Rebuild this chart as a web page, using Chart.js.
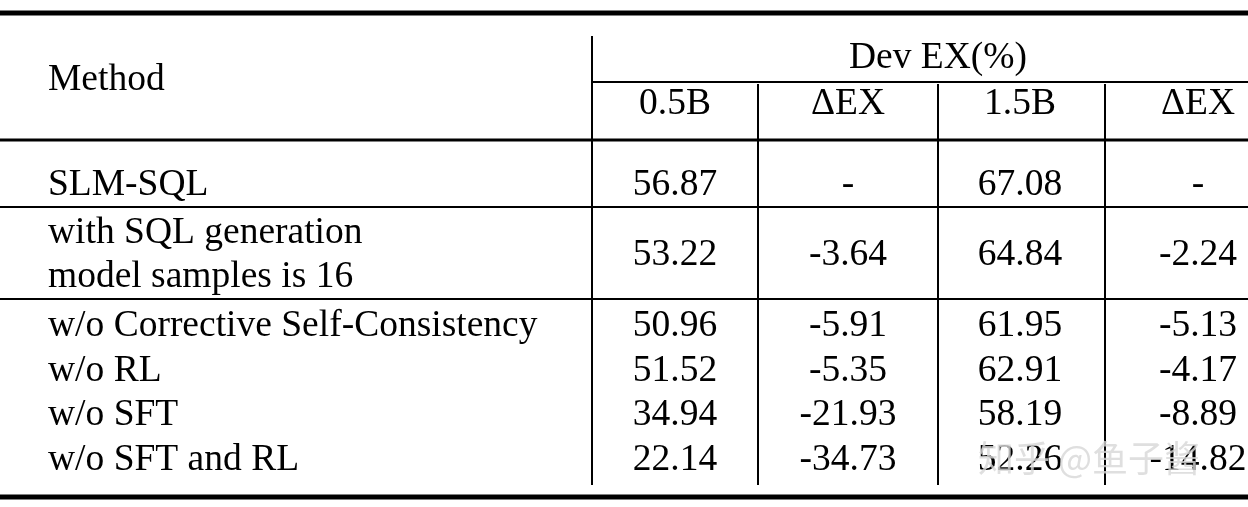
<!DOCTYPE html>
<html>
<head>
<meta charset="utf-8">
<script src="https://cdn.jsdelivr.net/npm/chart.js@4/dist/chart.umd.min.js"></script>
<style>
  body { margin: 0; background: #fff; }
  #tbl { display: block; }
</style>
</head>
<body>
<canvas id="tbl" width="1248" height="507"></canvas>
<script>
// table content
const methods = [
    ["SLM-SQL"],
    ["with SQL generation", "model samples is 16"],
    ["w/o Corrective Self-Consistency"],
    ["w/o RL"],
    ["w/o SFT"],
    ["w/o SFT and RL"]
];
const ex05 = ["56.87", "53.22", "50.96", "51.52", "34.94", "22.14"];
const delta05 = ["-", "-3.64", "-5.91", "-5.35", "-21.93", "-34.73"];
const ex15 = ["67.08", "64.84", "61.95", "62.91", "58.19", "52.26"];
const delta15 = ["-", "-2.24", "-5.13", "-4.17", "-8.89", "-14.82"];
const subHeaders = ["0.5B", "\u0394EX", "1.5B", "\u0394EX"];

// layout (in scale units == pixels)
const rowY = [185, 255, 326, 371, 415, 460];
const colX = [675, 848, 1020, 1198];
const font = '"Liberation Serif", "Times New Roman", serif';

const tablePlugin = {
    id: 'table',
    afterDraw(chart) {
        const ctx = chart.ctx;
        const sx = chart.scales.x, sy = chart.scales.y;
        const X = v => sx.getPixelForValue(v);
        const Y = v => sy.getPixelForValue(v);

        function hline(y, x0, x1, w) {
            ctx.lineWidth = w;
            ctx.beginPath(); ctx.moveTo(X(x0), Y(y)); ctx.lineTo(X(x1), Y(y)); ctx.stroke();
        }
        function vline(x, y0, y1) {
            ctx.lineWidth = 2;
            ctx.beginPath(); ctx.moveTo(X(x), Y(y0)); ctx.lineTo(X(x), Y(y1)); ctx.stroke();
        }
        function text(t, x, y, align) {
            ctx.textAlign = align;
            ctx.fillText(t, X(x), Y(y));
        }

        ctx.save();
        ctx.strokeStyle = '#000';
        ctx.fillStyle = '#000';
        hline(13, 0, 1248, 5);
        hline(82, 592, 1248, 2);
        hline(140, 0, 1248, 3);
        hline(207, 0, 1248, 2);
        hline(299, 0, 1248, 2);
        hline(497, 0, 1248, 5);
        vline(592, 36, 485);
        vline(758, 84, 485);
        vline(938, 84, 485);
        vline(1105, 84, 485);

        ctx.font = '37.5px ' + font;
        ctx.textBaseline = 'middle';
        text("Method", 48, 80, 'left');
        text("Dev EX(%)", 938, 58, 'center');
        subHeaders.forEach((h, i) => text(h, colX[i], 104, 'center'));

        methods.forEach((m, i) => {
            if (m.length === 1) text(m[0], 48, rowY[i], 'left');
            else { text(m[0], 48, 233, 'left'); text(m[1], 48, 277, 'left'); }
            text(ex05[i], colX[0], rowY[i], 'center');
            text(delta05[i], colX[1], rowY[i], 'center');
            text(ex15[i], colX[2], rowY[i], 'center');
            text(delta15[i], colX[3], rowY[i], 'center');
        });

        // watermark
        ctx.font = '36px "Noto Sans CJK SC", sans-serif';
        ctx.fillStyle = 'rgba(215,215,215,0.8)';
        text("\u77e5\u4e4e @\u9c7c\u5b50\u9171", 978, 458, 'left');
        ctx.restore();
    }
};

new Chart(document.getElementById('tbl'), {
    type: 'scatter',
    data: { datasets: [{ data: [] }] },
    options: {
        responsive: false,
        animation: false,
        layout: { padding: 0 },
        plugins: { legend: { display: false }, tooltip: { enabled: false } },
        scales: {
            x: { type: 'linear', min: 0, max: 1248, display: false },
            y: { type: 'linear', min: 0, max: 507, reverse: true, display: false }
        }
    },
    plugins: [tablePlugin]
});
</script>
</body>
</html>
